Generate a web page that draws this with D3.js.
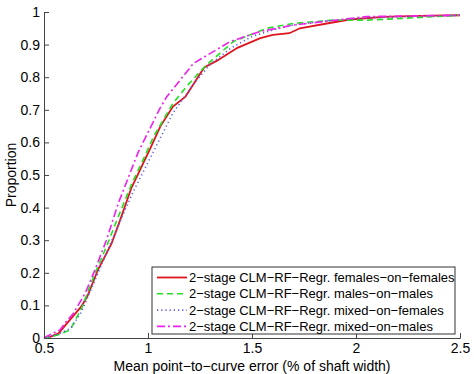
<!DOCTYPE html>
<html><head><meta charset="utf-8">
<script src="https://cdn.jsdelivr.net/npm/d3@7"></script>
<style>body{margin:0;background:#fff}svg{display:block}text{font-family:"Liberation Sans",Arial,sans-serif}</style>
</head><body><svg id="c" width="474" height="374"></svg>
<script>
// data
const xTicks = [0.5, 1, 1.5, 2, 2.5];
const yTicks = [0, 0.1, 0.2, 0.3, 0.4, 0.5, 0.6, 0.7, 0.8, 0.9, 1];
const seriesNames = [
  "2\u2212stage CLM\u2212RF\u2212Regr. females\u2212on\u2212females",
  "2\u2212stage CLM\u2212RF\u2212Regr. males\u2212on\u2212males",
  "2\u2212stage CLM\u2212RF\u2212Regr. mixed\u2212on\u2212females",
  "2\u2212stage CLM\u2212RF\u2212Regr. mixed\u2212on\u2212males"
];
const ffX = [0.5, 0.515, 0.57, 0.61, 0.68, 0.71, 0.76, 0.825, 0.865, 0.92, 1.01, 1.06, 1.12, 1.18, 1.27, 1.33, 1.43, 1.54, 1.6, 1.68, 1.73, 1.88, 1.97, 2.13, 2.3, 2.5];
const ffY = [0, 0, 0.014, 0.045, 0.097, 0.13, 0.21, 0.29, 0.36, 0.46, 0.58, 0.65, 0.71, 0.74, 0.83, 0.85, 0.89, 0.92, 0.93, 0.935, 0.95, 0.967, 0.977, 0.985, 0.988, 0.99];
const mmX = [0.5, 0.52, 0.57, 0.625, 0.68, 0.74, 0.80, 0.857, 0.92, 0.994, 1.026, 1.12, 1.19, 1.28, 1.41, 1.57, 1.70, 1.89, 2.05, 2.21, 2.5];
const mmY = [0, 0.002, 0.01, 0.025, 0.09, 0.19, 0.28, 0.372, 0.47, 0.571, 0.617, 0.72, 0.775, 0.837, 0.909, 0.95, 0.965, 0.975, 0.975, 0.98, 0.99];
const mfX = [0.5, 0.52, 0.57, 0.63, 0.68, 0.74, 0.80, 0.86, 0.93, 1.03, 1.12, 1.22, 1.3, 1.4, 1.5, 1.6, 1.7, 1.85, 2.0, 2.2, 2.5];
const mfY = [0, 0.003, 0.012, 0.03, 0.08, 0.17, 0.26, 0.35, 0.45, 0.577, 0.69, 0.78, 0.84, 0.89, 0.925, 0.945, 0.96, 0.972, 0.98, 0.985, 0.99];
const xmX = [0.5, 0.51, 0.577, 0.60, 0.641, 0.70, 0.745, 0.80, 0.857, 0.953, 1.058, 1.09, 1.218, 1.394, 1.538, 1.70, 1.89, 2.05, 2.5];
const xmY = [0, 0.004, 0.025, 0.045, 0.075, 0.14, 0.209, 0.30, 0.413, 0.57, 0.705, 0.74, 0.842, 0.909, 0.94, 0.96, 0.974, 0.986, 0.99];

const colors = ["#e0141e", "#22e022", "#5a5ae6", "#ee22ee"];
const dashes = [null, "6,4", "1.2,3", "8,3,2,3"];
const allX = [ffX, mmX, mfX, xmX], allY = [ffY, mmY, mfY, xmY];

const svg = d3.select("#c");
const L = 44, R = 460, T = 12, B = 338;
const x = d3.scaleLinear().domain([0.5, 2.5]).range([L, R]);
const y = d3.scaleLinear().domain([0, 1]).range([B, T]);

const line = d3.line().x(d => x(d[0])).y(d => y(d[1]));
allX.forEach((xs, i) => {
  const pts = xs.map((v, j) => [v, allY[i][j]]);
  svg.append("path").attr("d", line(pts)).attr("fill", "none")
    .attr("stroke", colors[i]).attr("stroke-width", i === 0 ? 1.8 : 1.6)
    .attr("stroke-dasharray", dashes[i]);
});

const gx = svg.append("g").attr("transform", `translate(0,${B})`)
  .call(d3.axisBottom(x).tickValues(xTicks).tickSize(-5).tickPadding(4).tickFormat(d3.format("")));
const gy = svg.append("g").attr("transform", `translate(${L},0)`)
  .call(d3.axisLeft(y).tickValues(yTicks).tickSize(-5).tickPadding(4).tickFormat(d3.format("")));
[gx, gy].forEach(g => {
  g.select(".domain").attr("stroke", "#444").attr("stroke-width", 1);
  g.selectAll(".tick line").attr("stroke", "#444");
  g.selectAll(".tick text").attr("font-size", 14).attr("fill", "#000")
    .style("font-family", "'Liberation Sans', Arial, sans-serif");
});
gx.selectAll(".tick text").attr("dy", "0.76em");

svg.append("text").attr("x", (L + R) / 2).attr("y", 370.5).attr("text-anchor", "middle")
  .attr("font-size", 14).text("Mean point\u2212to\u2212curve error (% of shaft width)");
svg.append("text").attr("transform", `translate(16,${(T + B) / 2}) rotate(-90)`)
  .attr("text-anchor", "middle").attr("font-size", 14).text("Proportion");

// legend
const lg = svg.append("g");
lg.append("rect").attr("x", 152).attr("y", 267).attr("width", 303).attr("height", 67)
  .attr("fill", "#fff").attr("stroke", "#333").attr("stroke-width", 1);
seriesNames.forEach((n, i) => {
  const yy = 277.5 + i * 16.3;
  lg.append("line").attr("x1", 157).attr("x2", 187).attr("y1", yy).attr("y2", yy)
    .attr("stroke", colors[i]).attr("stroke-width", i === 0 ? 1.8 : 1.6).attr("stroke-dasharray", dashes[i]);
  lg.append("text").attr("x", 189).attr("y", yy + 4.5).attr("font-size", 13).text(n);
});
</script></body></html>
